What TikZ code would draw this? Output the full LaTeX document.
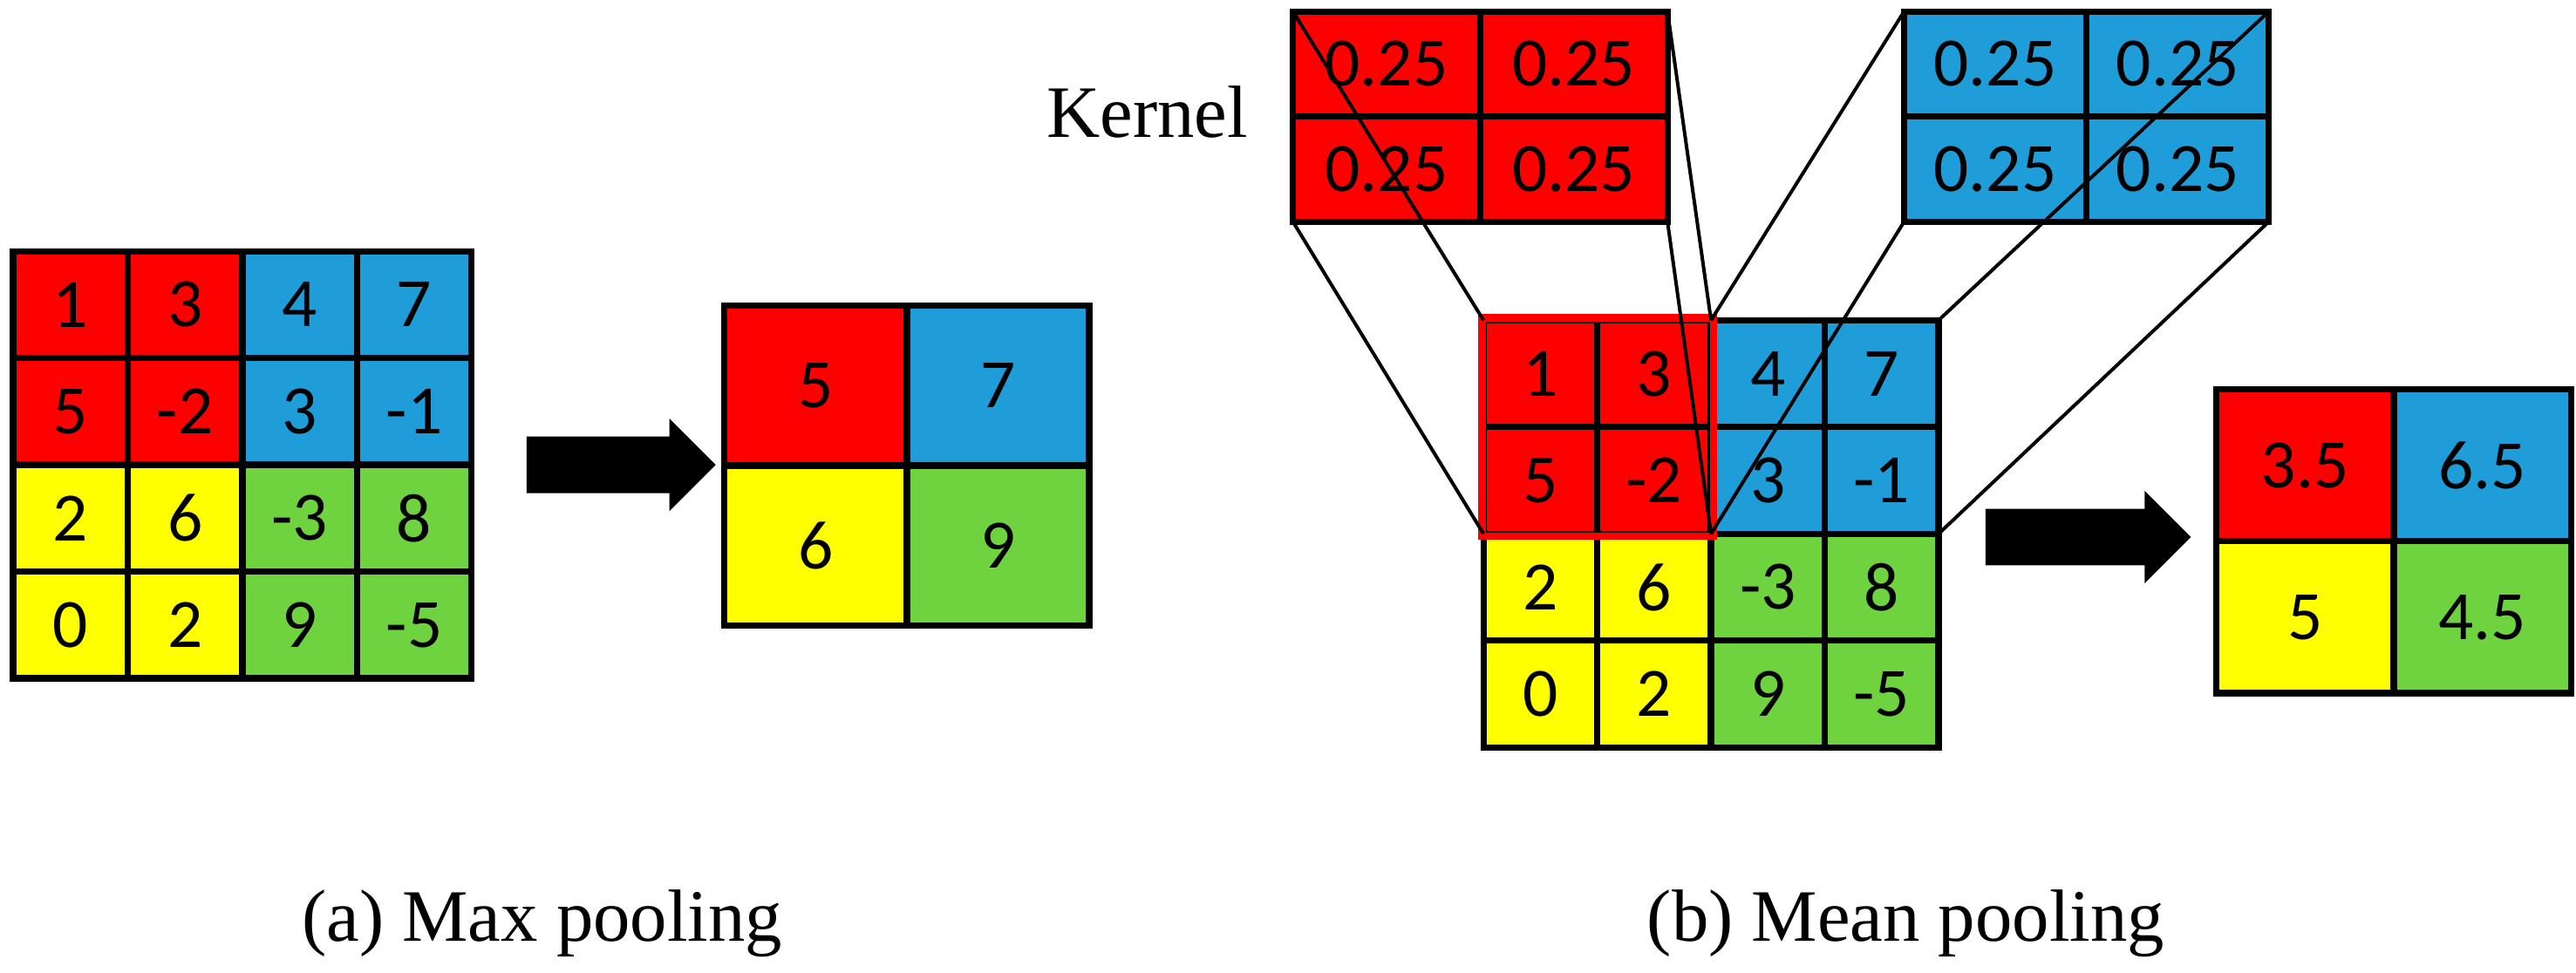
\documentclass[tikz,border=0pt]{standalone}
\usepackage{fontspec}
\setmainfont{Liberation Serif}
\newfontfamily\cellfont{Carlito}
\usetikzlibrary{shapes.arrows}
\definecolor{cRed}{HTML}{FF0000}
\definecolor{cBlue}{HTML}{1F9DD9}
\definecolor{cYellow}{HTML}{FFFF00}
\definecolor{cGreen}{HTML}{6FD33F}
\tikzset{
  cell/.style={draw,line width=1.1pt,inner sep=0pt,outer sep=0pt,
    font=\cellfont\fontsize{12}{14}\selectfont},
  link/.style={line width=0.6pt},
  caption/.style={font=\fontsize{12.8}{15}\selectfont},
  fat arrow/.style={single arrow,fill=black,inner xsep=0pt,inner ysep=1.65mm,
    minimum width=5.6mm,single arrow head extend=1.1mm,
    single arrow tip angle=90},
}
% grid: name, x0, y0, cell w, cell h, cells per side, values
\newcommand\pixgrid[7]{%
  \foreach \v [count=\k from 0] in {#7}{%
    \pgfmathtruncatemacro\col{mod(\k,#6)}%
    \pgfmathtruncatemacro\row{int(\k/#6)}%
    \pgfmathtruncatemacro\q{2*int(\row/(#6/2))+int(\col/(#6/2))}%
    \ifcase\q\def\c{cRed}\or\def\c{cBlue}\or\def\c{cYellow}\else\def\c{cGreen}\fi
    \node[cell,fill=\c,minimum width=#4*0.1mm,minimum height=#5*0.1mm]
      (#1-\row-\col) at (#2+#4*\col+#4/2,#3+#5*\row+#5/2) {\v};
  }}
\begin{document}
\begin{tikzpicture}[x=0.1mm,y=-0.1mm]
\useasboundingbox (0,0) rectangle (1568,592);

% (a) max pooling
\pixgrid{in}{8}{153}{69.75}{65}{4}{1,3,4,7,5,-2,3,-1,2,6,-3,8,0,2,9,-5}
\node[fat arrow,minimum height=11.5mm] (arrA) at (369.5,283) {};
\pixgrid{maxout}{441}{186}{111}{97.5}{2}{5,7,6,9}
\node[caption] (capA) at (330,562) {(a) Max pooling};

% (b) mean pooling
\pixgrid{mid}{903}{195}{69.25}{65}{4}{1,3,4,7,5,-2,3,-1,2,6,-3,8,0,2,9,-5}
\foreach \r in {0,1} \foreach \s in {0,1}{
  \node[cell,fill=cRed,minimum width=11.4mm,minimum height=6.4mm]
    (kred-\r-\s) at (787+114*\s+57,7+64*\r+32) {0.25};
  \node[cell,fill=cBlue,minimum width=11.1mm,minimum height=6.4mm]
    (kblue-\r-\s) at (1159+111*\s+55.5,7+64*\r+32) {0.25};
}
\node[font=\fontsize{12.8}{15}\selectfont,anchor=east] (kernel) at (772,68) {Kernel};
\node[draw=cRed,line width=1.3pt,inner sep=0pt,
  minimum width=14.1mm,minimum height=13.3mm] (wred) at (972.5,260) {};

% kernel to window
\draw[link] (kred-0-0.north west) -- (mid-0-0.north west);
\draw[link] (kred-1-0.south west) -- (mid-1-0.south west);
\draw[link] (kred-0-1.north east) -- (mid-0-1.north east);
\draw[link] (kred-1-1.south east) -- (mid-1-1.south east);
\draw[link] (kblue-0-0.north west) -- (mid-0-2.north west);
\draw[link] (kblue-1-0.south west) -- (mid-1-2.south west);
\draw[link] (kblue-0-1.north east) -- (mid-0-3.north east);
\draw[link] (kblue-1-1.south east) -- (mid-1-3.south east);

\node[fat arrow,minimum height=12.5mm] (arrB) at (1262.5,327) {};
\pixgrid{meanout}{1349}{237}{108}{92.5}{2}{3.5,6.5,5,4.5}
\node[caption] (capB) at (1160,562) {(b) Mean pooling};
\end{tikzpicture}
\end{document}
